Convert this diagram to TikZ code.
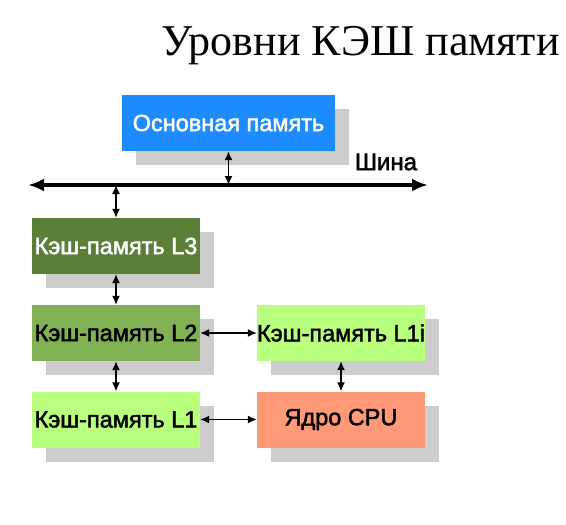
\documentclass[tikz,border=0pt]{standalone}
\usepackage{fontspec}
\setmainfont{Liberation Serif}
\newfontfamily\boxfont[FakeBold=2]{Liberation Sans}
\usetikzlibrary{shadows,arrows.meta}
\definecolor{mainblue}{HTML}{1E8CFF}
\definecolor{lthree}{HTML}{5A7F38}
\definecolor{ltwo}{HTML}{80B254}
\definecolor{lone}{HTML}{B8FF7E}
\definecolor{cpucol}{HTML}{FF9977}
\definecolor{shadowgray}{HTML}{CCCCCC}
\tikzset{
  x=1pt,y=1pt,
  cachebox/.style={minimum width=168pt, minimum height=56pt, inner sep=0pt,
    font=\boxfont\fontsize{23.5}{26}\selectfont,
    general shadow={shadow xshift=14pt, shadow yshift=-14pt, fill=shadowgray}},
  link/.style={{Latex[length=9pt,width=8pt]}-{Latex[length=9pt,width=8pt]}, line width=1.3pt},
  buslink/.style={{Latex[length=16pt,width=13pt]}-{Latex[length=16pt,width=13pt]}, line width=4.3pt}
}
\begin{document}
\begin{tikzpicture}
\useasboundingbox (0,0) rectangle (566,-525);
\node[anchor=base east, font=\fontsize{44}{48}\selectfont, inner sep=0pt] (title) at (560,-55) {Уровни КЭШ памяти};
\node[cachebox, minimum width=213pt, fill=mainblue, text=white] (main) at (228.5,-123) {Основная память};
\coordinate (busL) at (28,-185);
\coordinate (busR) at (428,-185);
\draw[buslink] (busL) -- (busR);
\node[font=\boxfont\fontsize{24}{26}\selectfont, inner sep=0pt] (buslabel) at (386,-162) {Шина};
\node[cachebox, fill=lthree, text=white] (l3) at (116,-246) {Кэш-память L3};
\node[cachebox, fill=ltwo] (l2) at (116,-333) {Кэш-память L2};
\node[cachebox, fill=lone] (l1) at (116,-419.5) {Кэш-память L1};
\node[cachebox, fill=lone] (l1i) at (341,-333) {Кэш-память L1i};
\node[cachebox, fill=cpucol] (cpu) at (341,-419.5) {Ядро CPU};
\draw[link] (main.south) -- (main.south |- busL);
\draw[link] (l3.north |- busL) -- (l3.north);
\draw[link] (l3.south) -- (l2.north);
\draw[link] (l2.south) -- (l1.north);
\draw[link] (l2.east) -- (l1i.west);
\draw[link] (l1.east) -- (cpu.west);
\draw[link] (l1i.south) -- (cpu.north);
\end{tikzpicture}
\end{document}
